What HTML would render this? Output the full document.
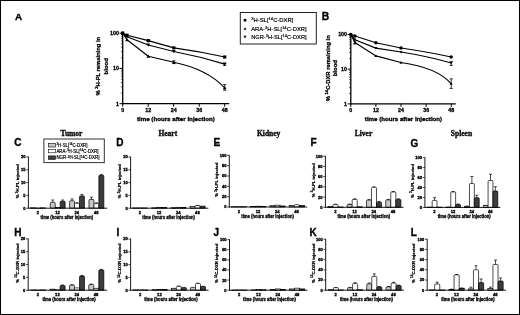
<!DOCTYPE html>
<html lang="en"><head><meta charset="utf-8"><title>Figure</title>
<style>html,body{margin:0;padding:0;background:#fff;}svg{display:block;}text{fill:#000;}</style>
</head><body>
<svg width="520" height="315" viewBox="0 0 520 315">
<rect x="0" y="0" width="520" height="315" fill="#fff"/>
<g id="main" filter="url(#bl)">
<text x="14.9" y="20.1" font-size="9.9" font-weight="bold" text-anchor="start" font-family='"Liberation Sans", sans-serif' stroke="#000" stroke-width="0.347">A</text>
<text x="321.7" y="20.4" font-size="10.3" font-weight="bold" text-anchor="start" font-family='"Liberation Sans", sans-serif' stroke="#000" stroke-width="0.361">B</text>
<rect x="240.3" y="12.5" width="76" height="31.5" fill="#fff" stroke="#222" stroke-width="1"/>
<rect x="243.70" y="18.90" width="2.60" height="2.60" fill="#000"/>
<text x="251.2" y="22.3" font-size="6" font-weight="normal" text-anchor="start" font-family='"Liberation Sans", sans-serif' stroke="#000" stroke-width="0.180" textLength="42.2" lengthAdjust="spacingAndGlyphs"><tspan font-size="4.20" dy="-2.16">3</tspan><tspan dy="2.16" font-size="6">&#8203;</tspan>H-SL[<tspan font-size="4.20" dy="-2.16">14</tspan><tspan dy="2.16" font-size="6">&#8203;</tspan>C-DXR]</text>
<path d="M245.00,27.17 L246.50,29.77 L243.50,29.77Z" fill="#000"/>
<text x="251.2" y="30.700000000000003" font-size="6" font-weight="normal" text-anchor="start" font-family='"Liberation Sans", sans-serif' stroke="#000" stroke-width="0.180" textLength="55.4" lengthAdjust="spacingAndGlyphs">ARA-<tspan font-size="4.20" dy="-2.16">3</tspan><tspan dy="2.16" font-size="6">&#8203;</tspan>H-SL[<tspan font-size="4.20" dy="-2.16">14</tspan><tspan dy="2.16" font-size="6">&#8203;</tspan>C-DXR]</text>
<path d="M245.00,38.43 L246.50,35.83 L243.50,35.83Z" fill="#000"/>
<text x="251.2" y="39.1" font-size="6" font-weight="normal" text-anchor="start" font-family='"Liberation Sans", sans-serif' stroke="#000" stroke-width="0.180" textLength="55.4" lengthAdjust="spacingAndGlyphs">NGR-<tspan font-size="4.20" dy="-2.16">3</tspan><tspan dy="2.16" font-size="6">&#8203;</tspan>H-SL[<tspan font-size="4.20" dy="-2.16">14</tspan><tspan dy="2.16" font-size="6">&#8203;</tspan>C-DXR]</text>
<line x1="122.70" y1="32.70" x2="122.70" y2="104.20" stroke="#000" stroke-width="1.3"/>
<line x1="122.10" y1="103.70" x2="229.20" y2="103.70" stroke="#000" stroke-width="1.3"/>
<line x1="119.50" y1="103.70" x2="122.70" y2="103.70" stroke="#000" stroke-width="1.0"/>
<text x="118.9" y="105.60000000000001" font-size="5.3" font-weight="bold" text-anchor="end" font-family='"Liberation Sans", sans-serif' stroke="#000" stroke-width="0.300">1</text>
<line x1="120.90" y1="93.09" x2="122.70" y2="93.09" stroke="#000" stroke-width="0.6"/>
<line x1="120.90" y1="86.88" x2="122.70" y2="86.88" stroke="#000" stroke-width="0.6"/>
<line x1="120.90" y1="82.48" x2="122.70" y2="82.48" stroke="#000" stroke-width="0.6"/>
<line x1="120.90" y1="79.06" x2="122.70" y2="79.06" stroke="#000" stroke-width="0.6"/>
<line x1="120.90" y1="76.27" x2="122.70" y2="76.27" stroke="#000" stroke-width="0.6"/>
<line x1="120.90" y1="73.91" x2="122.70" y2="73.91" stroke="#000" stroke-width="0.6"/>
<line x1="120.90" y1="71.87" x2="122.70" y2="71.87" stroke="#000" stroke-width="0.6"/>
<line x1="120.90" y1="70.06" x2="122.70" y2="70.06" stroke="#000" stroke-width="0.6"/>
<line x1="119.50" y1="68.45" x2="122.70" y2="68.45" stroke="#000" stroke-width="1.0"/>
<text x="118.9" y="70.35000000000001" font-size="5.3" font-weight="bold" text-anchor="end" font-family='"Liberation Sans", sans-serif' stroke="#000" stroke-width="0.300">10</text>
<line x1="120.90" y1="57.84" x2="122.70" y2="57.84" stroke="#000" stroke-width="0.6"/>
<line x1="120.90" y1="51.63" x2="122.70" y2="51.63" stroke="#000" stroke-width="0.6"/>
<line x1="120.90" y1="47.23" x2="122.70" y2="47.23" stroke="#000" stroke-width="0.6"/>
<line x1="120.90" y1="43.81" x2="122.70" y2="43.81" stroke="#000" stroke-width="0.6"/>
<line x1="120.90" y1="41.02" x2="122.70" y2="41.02" stroke="#000" stroke-width="0.6"/>
<line x1="120.90" y1="38.66" x2="122.70" y2="38.66" stroke="#000" stroke-width="0.6"/>
<line x1="120.90" y1="36.62" x2="122.70" y2="36.62" stroke="#000" stroke-width="0.6"/>
<line x1="120.90" y1="34.81" x2="122.70" y2="34.81" stroke="#000" stroke-width="0.6"/>
<line x1="119.50" y1="33.20" x2="122.70" y2="33.20" stroke="#000" stroke-width="1.0"/>
<text x="118.9" y="35.1" font-size="5.3" font-weight="bold" text-anchor="end" font-family='"Liberation Sans", sans-serif' stroke="#000" stroke-width="0.300">100</text>
<line x1="122.70" y1="103.70" x2="122.70" y2="106.70" stroke="#000" stroke-width="1.0"/>
<text x="122.7" y="112.0" font-size="5.3" font-weight="bold" text-anchor="middle" font-family='"Liberation Sans", sans-serif' stroke="#000" stroke-width="0.300">0</text>
<line x1="148.20" y1="103.70" x2="148.20" y2="106.70" stroke="#000" stroke-width="1.0"/>
<text x="148.2" y="112.0" font-size="5.3" font-weight="bold" text-anchor="middle" font-family='"Liberation Sans", sans-serif' stroke="#000" stroke-width="0.300">12</text>
<line x1="173.70" y1="103.70" x2="173.70" y2="106.70" stroke="#000" stroke-width="1.0"/>
<text x="173.7" y="112.0" font-size="5.3" font-weight="bold" text-anchor="middle" font-family='"Liberation Sans", sans-serif' stroke="#000" stroke-width="0.300">24</text>
<line x1="199.20" y1="103.70" x2="199.20" y2="106.70" stroke="#000" stroke-width="1.0"/>
<text x="199.2" y="112.0" font-size="5.3" font-weight="bold" text-anchor="middle" font-family='"Liberation Sans", sans-serif' stroke="#000" stroke-width="0.300">36</text>
<line x1="224.70" y1="103.70" x2="224.70" y2="106.70" stroke="#000" stroke-width="1.0"/>
<text x="224.7" y="112.0" font-size="5.3" font-weight="bold" text-anchor="middle" font-family='"Liberation Sans", sans-serif' stroke="#000" stroke-width="0.300">48</text>
<text x="175.9" y="121.3" font-size="6" font-weight="bold" text-anchor="middle" font-family='"Liberation Sans", sans-serif' stroke="#000" stroke-width="0.300" textLength="78" lengthAdjust="spacingAndGlyphs">time (hours after injection)</text>
<text x="100.4" y="66.2" font-size="6" font-weight="bold" text-anchor="middle" font-family='"Liberation Sans", sans-serif' transform="rotate(-90 100.4 66.2)" stroke="#000" stroke-width="0.300" textLength="58.5" lengthAdjust="spacingAndGlyphs">% <tspan font-size="4.20" dy="-2.16">3</tspan><tspan dy="2.16" font-size="6">&#8203;</tspan>H-PL remaining in</text>
<text x="107.8" y="66.2" font-size="6" font-weight="bold" text-anchor="middle" font-family='"Liberation Sans", sans-serif' transform="rotate(-90 107.8 66.2)" stroke="#000" stroke-width="0.300">blood</text>
<path d="M122.70,33.20 L127.00,35.20 L148.30,40.60 L173.80,47.90 Q200.00,51.50 224.70,57.00" fill="none" stroke="#000" stroke-width="1.15" stroke-linejoin="round"/>
<rect x="121.10" y="31.60" width="3.20" height="3.20" fill="#000"/>
<rect x="125.40" y="33.60" width="3.20" height="3.20" fill="#000"/>
<rect x="146.70" y="39.00" width="3.20" height="3.20" fill="#000"/>
<rect x="172.20" y="46.30" width="3.20" height="3.20" fill="#000"/>
<rect x="223.10" y="55.40" width="3.20" height="3.20" fill="#000"/>
<path d="M122.70,33.20 L127.00,36.70 L148.30,45.00 L173.80,51.50 Q200.00,56.50 224.70,64.10" fill="none" stroke="#000" stroke-width="1.15" stroke-linejoin="round"/>
<line x1="224.70" y1="63.00" x2="224.70" y2="65.50" stroke="#000" stroke-width="0.8"/>
<line x1="223.10" y1="63.00" x2="226.30" y2="63.00" stroke="#000" stroke-width="0.8"/>
<line x1="223.10" y1="65.50" x2="226.30" y2="65.50" stroke="#000" stroke-width="0.8"/>
<path d="M122.70,34.96 L124.54,31.76 L120.86,31.76Z" fill="#000"/>
<path d="M127.00,38.46 L128.84,35.26 L125.16,35.26Z" fill="#000"/>
<path d="M148.30,46.76 L150.14,43.56 L146.46,43.56Z" fill="#000"/>
<path d="M173.80,53.26 L175.64,50.06 L171.96,50.06Z" fill="#000"/>
<path d="M224.70,65.86 L226.54,62.66 L222.86,62.66Z" fill="#000"/>
<path d="M122.70,33.20 L127.00,39.80 L148.30,56.20 L173.80,62.20 Q207.00,69.00 224.70,87.80" fill="none" stroke="#000" stroke-width="1.15" stroke-linejoin="round"/>
<line x1="224.70" y1="84.60" x2="224.70" y2="90.20" stroke="#000" stroke-width="0.8"/>
<line x1="223.10" y1="84.60" x2="226.30" y2="84.60" stroke="#000" stroke-width="0.8"/>
<line x1="223.10" y1="90.20" x2="226.30" y2="90.20" stroke="#000" stroke-width="0.8"/>
<line x1="173.80" y1="60.80" x2="173.80" y2="63.60" stroke="#000" stroke-width="0.8"/>
<line x1="172.20" y1="60.80" x2="175.40" y2="60.80" stroke="#000" stroke-width="0.8"/>
<line x1="172.20" y1="63.60" x2="175.40" y2="63.60" stroke="#000" stroke-width="0.8"/>
<path d="M122.70,31.44 L124.54,34.64 L120.86,34.64Z" fill="#000"/>
<path d="M127.00,38.04 L128.84,41.24 L125.16,41.24Z" fill="#000"/>
<path d="M148.30,54.44 L150.14,57.64 L146.46,57.64Z" fill="#000"/>
<path d="M173.80,60.44 L175.64,63.64 L171.96,63.64Z" fill="#000"/>
<path d="M224.70,86.04 L226.54,89.24 L222.86,89.24Z" fill="#000"/>
<line x1="350.80" y1="33.90" x2="350.80" y2="104.40" stroke="#000" stroke-width="1.3"/>
<line x1="350.20" y1="103.90" x2="455.76" y2="103.90" stroke="#000" stroke-width="1.3"/>
<line x1="347.60" y1="103.90" x2="350.80" y2="103.90" stroke="#000" stroke-width="1.0"/>
<text x="347.0" y="105.80000000000001" font-size="5.3" font-weight="bold" text-anchor="end" font-family='"Liberation Sans", sans-serif' stroke="#000" stroke-width="0.300">1</text>
<line x1="349.00" y1="93.44" x2="350.80" y2="93.44" stroke="#000" stroke-width="0.6"/>
<line x1="349.00" y1="87.32" x2="350.80" y2="87.32" stroke="#000" stroke-width="0.6"/>
<line x1="349.00" y1="82.98" x2="350.80" y2="82.98" stroke="#000" stroke-width="0.6"/>
<line x1="349.00" y1="79.61" x2="350.80" y2="79.61" stroke="#000" stroke-width="0.6"/>
<line x1="349.00" y1="76.86" x2="350.80" y2="76.86" stroke="#000" stroke-width="0.6"/>
<line x1="349.00" y1="74.53" x2="350.80" y2="74.53" stroke="#000" stroke-width="0.6"/>
<line x1="349.00" y1="72.52" x2="350.80" y2="72.52" stroke="#000" stroke-width="0.6"/>
<line x1="349.00" y1="70.74" x2="350.80" y2="70.74" stroke="#000" stroke-width="0.6"/>
<line x1="347.60" y1="69.15" x2="350.80" y2="69.15" stroke="#000" stroke-width="1.0"/>
<text x="347.0" y="71.05000000000001" font-size="5.3" font-weight="bold" text-anchor="end" font-family='"Liberation Sans", sans-serif' stroke="#000" stroke-width="0.300">10</text>
<line x1="349.00" y1="58.69" x2="350.80" y2="58.69" stroke="#000" stroke-width="0.6"/>
<line x1="349.00" y1="52.57" x2="350.80" y2="52.57" stroke="#000" stroke-width="0.6"/>
<line x1="349.00" y1="48.23" x2="350.80" y2="48.23" stroke="#000" stroke-width="0.6"/>
<line x1="349.00" y1="44.86" x2="350.80" y2="44.86" stroke="#000" stroke-width="0.6"/>
<line x1="349.00" y1="42.11" x2="350.80" y2="42.11" stroke="#000" stroke-width="0.6"/>
<line x1="349.00" y1="39.78" x2="350.80" y2="39.78" stroke="#000" stroke-width="0.6"/>
<line x1="349.00" y1="37.77" x2="350.80" y2="37.77" stroke="#000" stroke-width="0.6"/>
<line x1="349.00" y1="35.99" x2="350.80" y2="35.99" stroke="#000" stroke-width="0.6"/>
<line x1="347.60" y1="34.40" x2="350.80" y2="34.40" stroke="#000" stroke-width="1.0"/>
<text x="347.0" y="36.300000000000004" font-size="5.3" font-weight="bold" text-anchor="end" font-family='"Liberation Sans", sans-serif' stroke="#000" stroke-width="0.300">100</text>
<line x1="350.80" y1="103.90" x2="350.80" y2="106.90" stroke="#000" stroke-width="1.0"/>
<text x="350.8" y="112.3" font-size="5.3" font-weight="bold" text-anchor="middle" font-family='"Liberation Sans", sans-serif' stroke="#000" stroke-width="0.300">0</text>
<line x1="375.92" y1="103.90" x2="375.92" y2="106.90" stroke="#000" stroke-width="1.0"/>
<text x="375.916" y="112.3" font-size="5.3" font-weight="bold" text-anchor="middle" font-family='"Liberation Sans", sans-serif' stroke="#000" stroke-width="0.300">12</text>
<line x1="401.03" y1="103.90" x2="401.03" y2="106.90" stroke="#000" stroke-width="1.0"/>
<text x="401.03200000000004" y="112.3" font-size="5.3" font-weight="bold" text-anchor="middle" font-family='"Liberation Sans", sans-serif' stroke="#000" stroke-width="0.300">24</text>
<line x1="426.15" y1="103.90" x2="426.15" y2="106.90" stroke="#000" stroke-width="1.0"/>
<text x="426.148" y="112.3" font-size="5.3" font-weight="bold" text-anchor="middle" font-family='"Liberation Sans", sans-serif' stroke="#000" stroke-width="0.300">36</text>
<line x1="451.26" y1="103.90" x2="451.26" y2="106.90" stroke="#000" stroke-width="1.0"/>
<text x="451.264" y="112.3" font-size="5.3" font-weight="bold" text-anchor="middle" font-family='"Liberation Sans", sans-serif' stroke="#000" stroke-width="0.300">48</text>
<text x="403.5" y="121" font-size="6" font-weight="bold" text-anchor="middle" font-family='"Liberation Sans", sans-serif' stroke="#000" stroke-width="0.300" textLength="77.3" lengthAdjust="spacingAndGlyphs">time (hours after injection)</text>
<text x="329.7" y="68.2" font-size="6" font-weight="bold" text-anchor="middle" font-family='"Liberation Sans", sans-serif' transform="rotate(-90 329.7 68.2)" stroke="#000" stroke-width="0.300" textLength="66" lengthAdjust="spacingAndGlyphs">% <tspan font-size="4.20" dy="-2.16">14</tspan><tspan dy="2.16" font-size="6">&#8203;</tspan>C-DXR remaining in</text>
<text x="336.7" y="68.2" font-size="6" font-weight="bold" text-anchor="middle" font-family='"Liberation Sans", sans-serif' transform="rotate(-90 336.7 68.2)" stroke="#000" stroke-width="0.300">blood</text>
<path d="M350.80,34.40 L354.90,36.00 L375.90,42.70 L401.00,48.00 Q428.00,52.00 451.20,57.00" fill="none" stroke="#000" stroke-width="1.15" stroke-linejoin="round"/>
<circle cx="350.80" cy="34.40" r="1.76" fill="#000"/>
<circle cx="354.90" cy="36.00" r="1.76" fill="#000"/>
<circle cx="375.90" cy="42.70" r="1.76" fill="#000"/>
<circle cx="401.00" cy="48.00" r="1.76" fill="#000"/>
<circle cx="451.20" cy="57.00" r="1.76" fill="#000"/>
<path d="M350.80,34.40 L354.90,39.70 L375.90,48.10 L401.00,52.00 Q428.00,56.30 451.20,63.00" fill="none" stroke="#000" stroke-width="1.15" stroke-linejoin="round"/>
<line x1="451.20" y1="61.40" x2="451.20" y2="65.40" stroke="#000" stroke-width="0.8"/>
<line x1="449.60" y1="61.40" x2="452.80" y2="61.40" stroke="#000" stroke-width="0.8"/>
<line x1="449.60" y1="65.40" x2="452.80" y2="65.40" stroke="#000" stroke-width="0.8"/>
<path d="M350.80,35.77 L352.24,33.27 L349.36,33.27Z" fill="#000"/>
<path d="M354.90,41.08 L356.34,38.58 L353.46,38.58Z" fill="#000"/>
<path d="M375.90,49.48 L377.34,46.98 L374.46,46.98Z" fill="#000"/>
<path d="M401.00,53.38 L402.44,50.88 L399.56,50.88Z" fill="#000"/>
<path d="M451.20,64.38 L452.64,61.88 L449.76,61.88Z" fill="#000"/>
<path d="M350.80,34.40 L354.90,42.50 L375.90,55.90 L401.00,62.50 Q437.00,67.50 451.20,83.70" fill="none" stroke="#000" stroke-width="1.15" stroke-linejoin="round"/>
<line x1="451.20" y1="78.90" x2="451.20" y2="88.40" stroke="#000" stroke-width="0.8"/>
<line x1="449.60" y1="78.90" x2="452.80" y2="78.90" stroke="#000" stroke-width="0.8"/>
<line x1="449.60" y1="88.40" x2="452.80" y2="88.40" stroke="#000" stroke-width="0.8"/>
<line x1="354.90" y1="41.00" x2="354.90" y2="44.00" stroke="#000" stroke-width="0.8"/>
<line x1="353.30" y1="41.00" x2="356.50" y2="41.00" stroke="#000" stroke-width="0.8"/>
<line x1="353.30" y1="44.00" x2="356.50" y2="44.00" stroke="#000" stroke-width="0.8"/>
<path d="M350.80,32.97 L352.30,35.57 L349.31,35.57Z" fill="#000"/>
<path d="M354.90,41.07 L356.39,43.67 L353.40,43.67Z" fill="#000"/>
<path d="M375.90,54.47 L377.39,57.07 L374.40,57.07Z" fill="#000"/>
<path d="M401.00,61.07 L402.50,63.67 L399.50,63.67Z" fill="#000"/>
<path d="M451.20,82.27 L452.69,84.87 L449.70,84.87Z" fill="#000"/>
<rect x="30.57" y="207.82" width="4.95" height="0.38" fill="#c8c8c8" stroke="#000" stroke-width="0.7"/>
<rect x="35.52" y="208.07" width="4.95" height="0.13" fill="#fff" stroke="#000" stroke-width="0.7"/>
<rect x="40.48" y="207.89" width="4.95" height="0.31" fill="#3c3c3c" stroke="#000" stroke-width="0.7"/>
<line x1="52.75" y1="202.31" x2="52.75" y2="200.01" stroke="#000" stroke-width="0.7"/>
<line x1="51.25" y1="200.01" x2="54.25" y2="200.01" stroke="#000" stroke-width="0.7"/>
<path d="M50.28,208.20 V203.21 Q50.28,202.31 51.18,202.31 H54.33 Q55.23,202.31 55.23,203.21 V208.20Z" fill="#c8c8c8" stroke="#000" stroke-width="0.7"/>
<rect x="55.23" y="207.43" width="4.95" height="0.77" fill="#fff" stroke="#000" stroke-width="0.7"/>
<line x1="62.65" y1="201.29" x2="62.65" y2="200.01" stroke="#000" stroke-width="0.7"/>
<line x1="61.15" y1="200.01" x2="64.15" y2="200.01" stroke="#000" stroke-width="0.7"/>
<path d="M60.18,208.20 V202.19 Q60.18,201.29 61.08,201.29 H64.22 Q65.12,201.29 65.12,202.19 V208.20Z" fill="#3c3c3c" stroke="#000" stroke-width="0.7"/>
<line x1="72.05" y1="200.78" x2="72.05" y2="198.98" stroke="#000" stroke-width="0.7"/>
<line x1="70.55" y1="198.98" x2="73.55" y2="198.98" stroke="#000" stroke-width="0.7"/>
<path d="M69.58,208.20 V201.68 Q69.58,200.78 70.48,200.78 H73.62 Q74.53,200.78 74.53,201.68 V208.20Z" fill="#c8c8c8" stroke="#000" stroke-width="0.7"/>
<line x1="77.00" y1="203.34" x2="77.00" y2="202.82" stroke="#000" stroke-width="0.7"/>
<line x1="75.50" y1="202.82" x2="78.50" y2="202.82" stroke="#000" stroke-width="0.7"/>
<path d="M74.53,208.20 V204.24 Q74.53,203.34 75.43,203.34 H78.58 Q79.48,203.34 79.48,204.24 V208.20Z" fill="#fff" stroke="#000" stroke-width="0.7"/>
<line x1="81.95" y1="195.91" x2="81.95" y2="194.38" stroke="#000" stroke-width="0.7"/>
<line x1="80.45" y1="194.38" x2="83.45" y2="194.38" stroke="#000" stroke-width="0.7"/>
<path d="M79.48,208.20 V196.81 Q79.48,195.91 80.38,195.91 H83.53 Q84.43,195.91 84.43,196.81 V208.20Z" fill="#3c3c3c" stroke="#000" stroke-width="0.7"/>
<line x1="91.45" y1="199.50" x2="91.45" y2="197.19" stroke="#000" stroke-width="0.7"/>
<line x1="89.95" y1="197.19" x2="92.95" y2="197.19" stroke="#000" stroke-width="0.7"/>
<path d="M88.98,208.20 V200.40 Q88.98,199.50 89.88,199.50 H93.03 Q93.93,199.50 93.93,200.40 V208.20Z" fill="#c8c8c8" stroke="#000" stroke-width="0.7"/>
<line x1="96.40" y1="203.59" x2="96.40" y2="202.82" stroke="#000" stroke-width="0.7"/>
<line x1="94.90" y1="202.82" x2="97.90" y2="202.82" stroke="#000" stroke-width="0.7"/>
<path d="M93.93,208.20 V204.49 Q93.93,203.59 94.83,203.59 H97.98 Q98.88,203.59 98.88,204.49 V208.20Z" fill="#fff" stroke="#000" stroke-width="0.7"/>
<line x1="101.35" y1="175.18" x2="101.35" y2="174.66" stroke="#000" stroke-width="0.7"/>
<line x1="99.85" y1="174.66" x2="102.85" y2="174.66" stroke="#000" stroke-width="0.7"/>
<path d="M98.88,208.20 V176.08 Q98.88,175.18 99.78,175.18 H102.93 Q103.83,175.18 103.83,176.08 V208.20Z" fill="#3c3c3c" stroke="#000" stroke-width="0.7"/>
<line x1="28.40" y1="156.60" x2="28.40" y2="208.60" stroke="#000" stroke-width="0.9"/>
<line x1="28.00" y1="208.20" x2="107.20" y2="208.20" stroke="#000" stroke-width="0.9"/>
<line x1="26.20" y1="208.20" x2="28.40" y2="208.20" stroke="#000" stroke-width="0.7"/>
<text x="25.5" y="209.64999999999998" font-size="4.0" font-weight="bold" text-anchor="end" font-family='"Liberation Sans", sans-serif' stroke="#000" stroke-width="0.340">0</text>
<line x1="26.20" y1="195.40" x2="28.40" y2="195.40" stroke="#000" stroke-width="0.7"/>
<text x="25.5" y="196.84999999999997" font-size="4.0" font-weight="bold" text-anchor="end" font-family='"Liberation Sans", sans-serif' stroke="#000" stroke-width="0.340">5</text>
<line x1="26.20" y1="182.60" x2="28.40" y2="182.60" stroke="#000" stroke-width="0.7"/>
<text x="25.5" y="184.04999999999998" font-size="4.0" font-weight="bold" text-anchor="end" font-family='"Liberation Sans", sans-serif' stroke="#000" stroke-width="0.340">10</text>
<line x1="26.20" y1="169.80" x2="28.40" y2="169.80" stroke="#000" stroke-width="0.7"/>
<text x="25.5" y="171.25" font-size="4.0" font-weight="bold" text-anchor="end" font-family='"Liberation Sans", sans-serif' stroke="#000" stroke-width="0.340">15</text>
<line x1="26.20" y1="157.00" x2="28.40" y2="157.00" stroke="#000" stroke-width="0.7"/>
<text x="25.5" y="158.45" font-size="4.0" font-weight="bold" text-anchor="end" font-family='"Liberation Sans", sans-serif' stroke="#000" stroke-width="0.340">20</text>
<text x="37.8" y="213.89999999999998" font-size="4.1" font-weight="bold" text-anchor="middle" font-family='"Liberation Sans", sans-serif' stroke="#000" stroke-width="0.340">2</text>
<text x="57.5" y="213.89999999999998" font-size="4.1" font-weight="bold" text-anchor="middle" font-family='"Liberation Sans", sans-serif' stroke="#000" stroke-width="0.340">12</text>
<text x="76.8" y="213.89999999999998" font-size="4.1" font-weight="bold" text-anchor="middle" font-family='"Liberation Sans", sans-serif' stroke="#000" stroke-width="0.340">24</text>
<text x="96.2" y="213.89999999999998" font-size="4.1" font-weight="bold" text-anchor="middle" font-family='"Liberation Sans", sans-serif' stroke="#000" stroke-width="0.340">48</text>
<text x="66.9" y="219.1" font-size="4.5" font-weight="bold" text-anchor="middle" font-family='"Liberation Sans", sans-serif' stroke="#000" stroke-width="0.280" textLength="52.6" lengthAdjust="spacingAndGlyphs">time (hours after injection)</text>
<text x="19.2" y="181.1" font-size="4.3" font-weight="bold" text-anchor="middle" font-family='"Liberation Sans", sans-serif' transform="rotate(-90 19.2 181.1)" stroke="#000" stroke-width="0.220">% <tspan font-size="3.01" dy="-1.55">3</tspan><tspan dy="1.55" font-size="4.3">&#8203;</tspan>H-PL injected</text>
<text x="14.3" y="146.2" font-size="10" font-weight="bold" text-anchor="start" font-family='"Liberation Sans", sans-serif' stroke="#000" stroke-width="0.350">C</text>
<text x="71.5" y="136.2" font-size="7.5" font-weight="bold" text-anchor="middle" font-family='"Liberation Serif", serif' stroke="#000" stroke-width="0.300">Tumor</text>
<rect x="132.50" y="207.94" width="5.00" height="0.26" fill="#c8c8c8" stroke="#000" stroke-width="0.7"/>
<rect x="137.50" y="207.94" width="5.00" height="0.26" fill="#fff" stroke="#000" stroke-width="0.7"/>
<rect x="142.50" y="207.94" width="5.00" height="0.26" fill="#3c3c3c" stroke="#000" stroke-width="0.7"/>
<rect x="151.70" y="207.82" width="5.00" height="0.38" fill="#c8c8c8" stroke="#000" stroke-width="0.7"/>
<rect x="156.70" y="207.43" width="5.00" height="0.77" fill="#fff" stroke="#000" stroke-width="0.7"/>
<rect x="161.70" y="207.56" width="5.00" height="0.64" fill="#3c3c3c" stroke="#000" stroke-width="0.7"/>
<rect x="170.90" y="207.69" width="5.00" height="0.51" fill="#c8c8c8" stroke="#000" stroke-width="0.7"/>
<rect x="175.90" y="207.30" width="5.00" height="0.90" fill="#fff" stroke="#000" stroke-width="0.7"/>
<rect x="180.90" y="207.43" width="5.00" height="0.77" fill="#3c3c3c" stroke="#000" stroke-width="0.7"/>
<rect x="190.10" y="206.41" width="5.00" height="1.79" fill="#c8c8c8" stroke="#000" stroke-width="0.7"/>
<line x1="197.60" y1="205.64" x2="197.60" y2="205.38" stroke="#000" stroke-width="0.7"/>
<line x1="196.10" y1="205.38" x2="199.10" y2="205.38" stroke="#000" stroke-width="0.7"/>
<path d="M195.10,208.20 V206.54 Q195.10,205.64 196.00,205.64 H199.20 Q200.10,205.64 200.10,206.54 V208.20Z" fill="#fff" stroke="#000" stroke-width="0.7"/>
<rect x="200.10" y="206.15" width="5.00" height="2.05" fill="#3c3c3c" stroke="#000" stroke-width="0.7"/>
<line x1="130.60" y1="156.60" x2="130.60" y2="208.60" stroke="#000" stroke-width="0.9"/>
<line x1="130.20" y1="208.20" x2="208.40" y2="208.20" stroke="#000" stroke-width="0.9"/>
<line x1="128.40" y1="208.20" x2="130.60" y2="208.20" stroke="#000" stroke-width="0.7"/>
<text x="127.69999999999999" y="209.64999999999998" font-size="4.0" font-weight="bold" text-anchor="end" font-family='"Liberation Sans", sans-serif' stroke="#000" stroke-width="0.340">0</text>
<line x1="128.40" y1="195.40" x2="130.60" y2="195.40" stroke="#000" stroke-width="0.7"/>
<text x="127.69999999999999" y="196.84999999999997" font-size="4.0" font-weight="bold" text-anchor="end" font-family='"Liberation Sans", sans-serif' stroke="#000" stroke-width="0.340">5</text>
<line x1="128.40" y1="182.60" x2="130.60" y2="182.60" stroke="#000" stroke-width="0.7"/>
<text x="127.69999999999999" y="184.04999999999998" font-size="4.0" font-weight="bold" text-anchor="end" font-family='"Liberation Sans", sans-serif' stroke="#000" stroke-width="0.340">10</text>
<line x1="128.40" y1="169.80" x2="130.60" y2="169.80" stroke="#000" stroke-width="0.7"/>
<text x="127.69999999999999" y="171.25" font-size="4.0" font-weight="bold" text-anchor="end" font-family='"Liberation Sans", sans-serif' stroke="#000" stroke-width="0.340">15</text>
<line x1="128.40" y1="157.00" x2="130.60" y2="157.00" stroke="#000" stroke-width="0.7"/>
<text x="127.69999999999999" y="158.45" font-size="4.0" font-weight="bold" text-anchor="end" font-family='"Liberation Sans", sans-serif' stroke="#000" stroke-width="0.340">20</text>
<text x="139.8" y="213.89999999999998" font-size="4.1" font-weight="bold" text-anchor="middle" font-family='"Liberation Sans", sans-serif' stroke="#000" stroke-width="0.340">2</text>
<text x="159.0" y="213.89999999999998" font-size="4.1" font-weight="bold" text-anchor="middle" font-family='"Liberation Sans", sans-serif' stroke="#000" stroke-width="0.340">12</text>
<text x="178.20000000000002" y="213.89999999999998" font-size="4.1" font-weight="bold" text-anchor="middle" font-family='"Liberation Sans", sans-serif' stroke="#000" stroke-width="0.340">24</text>
<text x="197.4" y="213.89999999999998" font-size="4.1" font-weight="bold" text-anchor="middle" font-family='"Liberation Sans", sans-serif' stroke="#000" stroke-width="0.340">48</text>
<text x="168.6" y="219.1" font-size="4.5" font-weight="bold" text-anchor="middle" font-family='"Liberation Sans", sans-serif' stroke="#000" stroke-width="0.280" textLength="52.6" lengthAdjust="spacingAndGlyphs">time (hours after injection)</text>
<text x="121.4" y="181.1" font-size="4.3" font-weight="bold" text-anchor="middle" font-family='"Liberation Sans", sans-serif' transform="rotate(-90 121.4 181.1)" stroke="#000" stroke-width="0.220">% <tspan font-size="3.01" dy="-1.55">3</tspan><tspan dy="1.55" font-size="4.3">&#8203;</tspan>H-PL injected</text>
<text x="116.2" y="146.2" font-size="10" font-weight="bold" text-anchor="start" font-family='"Liberation Sans", sans-serif' stroke="#000" stroke-width="0.350">D</text>
<text x="167.8" y="136.2" font-size="7.5" font-weight="bold" text-anchor="middle" font-family='"Liberation Serif", serif' stroke="#000" stroke-width="0.300">Heart</text>
<rect x="231.43" y="206.74" width="5.05" height="0.26" fill="#c8c8c8" stroke="#000" stroke-width="0.7"/>
<rect x="236.48" y="206.74" width="5.05" height="0.26" fill="#fff" stroke="#000" stroke-width="0.7"/>
<rect x="241.53" y="206.74" width="5.05" height="0.26" fill="#3c3c3c" stroke="#000" stroke-width="0.7"/>
<rect x="250.62" y="206.59" width="5.05" height="0.41" fill="#c8c8c8" stroke="#000" stroke-width="0.7"/>
<rect x="255.68" y="206.22" width="5.05" height="0.78" fill="#fff" stroke="#000" stroke-width="0.7"/>
<rect x="260.73" y="206.48" width="5.05" height="0.52" fill="#3c3c3c" stroke="#000" stroke-width="0.7"/>
<rect x="269.93" y="205.71" width="5.05" height="1.29" fill="#c8c8c8" stroke="#000" stroke-width="0.7"/>
<rect x="274.98" y="205.19" width="5.05" height="1.81" fill="#fff" stroke="#000" stroke-width="0.7"/>
<rect x="280.03" y="205.97" width="5.05" height="1.03" fill="#3c3c3c" stroke="#000" stroke-width="0.7"/>
<rect x="289.23" y="205.45" width="5.05" height="1.55" fill="#c8c8c8" stroke="#000" stroke-width="0.7"/>
<path d="M294.28,207.00 V205.57 Q294.28,204.67 295.18,204.67 H298.43 Q299.33,204.67 299.33,205.57 V207.00Z" fill="#fff" stroke="#000" stroke-width="0.7"/>
<rect x="299.33" y="205.45" width="5.05" height="1.55" fill="#3c3c3c" stroke="#000" stroke-width="0.7"/>
<line x1="229.30" y1="154.90" x2="229.30" y2="207.40" stroke="#000" stroke-width="0.9"/>
<line x1="228.90" y1="207.00" x2="307.20" y2="207.00" stroke="#000" stroke-width="0.9"/>
<line x1="227.10" y1="207.00" x2="229.30" y2="207.00" stroke="#000" stroke-width="0.7"/>
<text x="226.4" y="208.45" font-size="4.0" font-weight="bold" text-anchor="end" font-family='"Liberation Sans", sans-serif' stroke="#000" stroke-width="0.340">0</text>
<line x1="227.10" y1="196.66" x2="229.30" y2="196.66" stroke="#000" stroke-width="0.7"/>
<text x="226.4" y="198.10999999999999" font-size="4.0" font-weight="bold" text-anchor="end" font-family='"Liberation Sans", sans-serif' stroke="#000" stroke-width="0.340">20</text>
<line x1="227.10" y1="186.32" x2="229.30" y2="186.32" stroke="#000" stroke-width="0.7"/>
<text x="226.4" y="187.76999999999998" font-size="4.0" font-weight="bold" text-anchor="end" font-family='"Liberation Sans", sans-serif' stroke="#000" stroke-width="0.340">40</text>
<line x1="227.10" y1="175.98" x2="229.30" y2="175.98" stroke="#000" stroke-width="0.7"/>
<text x="226.4" y="177.43" font-size="4.0" font-weight="bold" text-anchor="end" font-family='"Liberation Sans", sans-serif' stroke="#000" stroke-width="0.340">60</text>
<line x1="227.10" y1="165.64" x2="229.30" y2="165.64" stroke="#000" stroke-width="0.7"/>
<text x="226.4" y="167.09" font-size="4.0" font-weight="bold" text-anchor="end" font-family='"Liberation Sans", sans-serif' stroke="#000" stroke-width="0.340">80</text>
<line x1="227.10" y1="155.30" x2="229.30" y2="155.30" stroke="#000" stroke-width="0.7"/>
<text x="226.4" y="156.75" font-size="4.0" font-weight="bold" text-anchor="end" font-family='"Liberation Sans", sans-serif' stroke="#000" stroke-width="0.340">100</text>
<text x="238.8" y="212.7" font-size="4.1" font-weight="bold" text-anchor="middle" font-family='"Liberation Sans", sans-serif' stroke="#000" stroke-width="0.340">2</text>
<text x="258.0" y="212.7" font-size="4.1" font-weight="bold" text-anchor="middle" font-family='"Liberation Sans", sans-serif' stroke="#000" stroke-width="0.340">12</text>
<text x="277.3" y="212.7" font-size="4.1" font-weight="bold" text-anchor="middle" font-family='"Liberation Sans", sans-serif' stroke="#000" stroke-width="0.340">24</text>
<text x="296.6" y="212.7" font-size="4.1" font-weight="bold" text-anchor="middle" font-family='"Liberation Sans", sans-serif' stroke="#000" stroke-width="0.340">48</text>
<text x="267.6" y="217.9" font-size="4.5" font-weight="bold" text-anchor="middle" font-family='"Liberation Sans", sans-serif' stroke="#000" stroke-width="0.280" textLength="52.6" lengthAdjust="spacingAndGlyphs">time (hours after injection)</text>
<text x="218.5" y="179.65" font-size="4.3" font-weight="bold" text-anchor="middle" font-family='"Liberation Sans", sans-serif' transform="rotate(-90 218.5 179.65)" stroke="#000" stroke-width="0.220">% <tspan font-size="3.01" dy="-1.55">3</tspan><tspan dy="1.55" font-size="4.3">&#8203;</tspan>H-PL injected</text>
<text x="213.4" y="146.2" font-size="10" font-weight="bold" text-anchor="start" font-family='"Liberation Sans", sans-serif' stroke="#000" stroke-width="0.350">E</text>
<text x="268.7" y="136.2" font-size="7.5" font-weight="bold" text-anchor="middle" font-family='"Liberation Serif", serif' stroke="#000" stroke-width="0.300">Kidney</text>
<rect x="327.93" y="206.53" width="5.05" height="0.77" fill="#c8c8c8" stroke="#000" stroke-width="0.7"/>
<line x1="335.50" y1="204.49" x2="335.50" y2="204.23" stroke="#000" stroke-width="0.7"/>
<line x1="334.00" y1="204.23" x2="337.00" y2="204.23" stroke="#000" stroke-width="0.7"/>
<path d="M332.98,207.30 V205.39 Q332.98,204.49 333.88,204.49 H337.13 Q338.03,204.49 338.03,205.39 V207.30Z" fill="#fff" stroke="#000" stroke-width="0.7"/>
<rect x="338.03" y="206.99" width="5.05" height="0.31" fill="#3c3c3c" stroke="#000" stroke-width="0.7"/>
<line x1="349.65" y1="204.49" x2="349.65" y2="204.08" stroke="#000" stroke-width="0.7"/>
<line x1="348.15" y1="204.08" x2="351.15" y2="204.08" stroke="#000" stroke-width="0.7"/>
<path d="M347.12,207.30 V205.39 Q347.12,204.49 348.02,204.49 H351.28 Q352.18,204.49 352.18,205.39 V207.30Z" fill="#c8c8c8" stroke="#000" stroke-width="0.7"/>
<line x1="354.70" y1="199.38" x2="354.70" y2="198.87" stroke="#000" stroke-width="0.7"/>
<line x1="353.20" y1="198.87" x2="356.20" y2="198.87" stroke="#000" stroke-width="0.7"/>
<path d="M352.18,207.30 V200.28 Q352.18,199.38 353.07,199.38 H356.33 Q357.23,199.38 357.23,200.28 V207.30Z" fill="#fff" stroke="#000" stroke-width="0.7"/>
<rect x="357.23" y="206.79" width="5.05" height="0.51" fill="#3c3c3c" stroke="#000" stroke-width="0.7"/>
<line x1="368.95" y1="200.15" x2="368.95" y2="199.38" stroke="#000" stroke-width="0.7"/>
<line x1="367.45" y1="199.38" x2="370.45" y2="199.38" stroke="#000" stroke-width="0.7"/>
<path d="M366.43,207.30 V201.05 Q366.43,200.15 367.32,200.15 H370.58 Q371.48,200.15 371.48,201.05 V207.30Z" fill="#c8c8c8" stroke="#000" stroke-width="0.7"/>
<line x1="374.00" y1="187.37" x2="374.00" y2="186.86" stroke="#000" stroke-width="0.7"/>
<line x1="372.50" y1="186.86" x2="375.50" y2="186.86" stroke="#000" stroke-width="0.7"/>
<path d="M371.48,207.30 V188.27 Q371.48,187.37 372.38,187.37 H375.63 Q376.53,187.37 376.53,188.27 V207.30Z" fill="#fff" stroke="#000" stroke-width="0.7"/>
<line x1="379.05" y1="202.19" x2="379.05" y2="201.42" stroke="#000" stroke-width="0.7"/>
<line x1="377.55" y1="201.42" x2="380.55" y2="201.42" stroke="#000" stroke-width="0.7"/>
<path d="M376.53,207.30 V203.09 Q376.53,202.19 377.43,202.19 H380.68 Q381.58,202.19 381.58,203.09 V207.30Z" fill="#3c3c3c" stroke="#000" stroke-width="0.7"/>
<line x1="388.25" y1="199.89" x2="388.25" y2="199.38" stroke="#000" stroke-width="0.7"/>
<line x1="386.75" y1="199.38" x2="389.75" y2="199.38" stroke="#000" stroke-width="0.7"/>
<path d="M385.73,207.30 V200.79 Q385.73,199.89 386.62,199.89 H389.88 Q390.78,199.89 390.78,200.79 V207.30Z" fill="#c8c8c8" stroke="#000" stroke-width="0.7"/>
<line x1="393.30" y1="191.97" x2="393.30" y2="191.46" stroke="#000" stroke-width="0.7"/>
<line x1="391.80" y1="191.46" x2="394.80" y2="191.46" stroke="#000" stroke-width="0.7"/>
<path d="M390.78,207.30 V192.87 Q390.78,191.97 391.68,191.97 H394.93 Q395.83,191.97 395.83,192.87 V207.30Z" fill="#fff" stroke="#000" stroke-width="0.7"/>
<line x1="398.35" y1="199.38" x2="398.35" y2="198.87" stroke="#000" stroke-width="0.7"/>
<line x1="396.85" y1="198.87" x2="399.85" y2="198.87" stroke="#000" stroke-width="0.7"/>
<path d="M395.83,207.30 V200.28 Q395.83,199.38 396.73,199.38 H399.98 Q400.88,199.38 400.88,200.28 V207.30Z" fill="#3c3c3c" stroke="#000" stroke-width="0.7"/>
<line x1="325.40" y1="155.80" x2="325.40" y2="207.70" stroke="#000" stroke-width="0.9"/>
<line x1="325.00" y1="207.30" x2="403.60" y2="207.30" stroke="#000" stroke-width="0.9"/>
<line x1="323.20" y1="207.30" x2="325.40" y2="207.30" stroke="#000" stroke-width="0.7"/>
<text x="322.5" y="208.75" font-size="4.0" font-weight="bold" text-anchor="end" font-family='"Liberation Sans", sans-serif' stroke="#000" stroke-width="0.340">0</text>
<line x1="323.20" y1="197.08" x2="325.40" y2="197.08" stroke="#000" stroke-width="0.7"/>
<text x="322.5" y="198.53" font-size="4.0" font-weight="bold" text-anchor="end" font-family='"Liberation Sans", sans-serif' stroke="#000" stroke-width="0.340">20</text>
<line x1="323.20" y1="186.86" x2="325.40" y2="186.86" stroke="#000" stroke-width="0.7"/>
<text x="322.5" y="188.31" font-size="4.0" font-weight="bold" text-anchor="end" font-family='"Liberation Sans", sans-serif' stroke="#000" stroke-width="0.340">40</text>
<line x1="323.20" y1="176.64" x2="325.40" y2="176.64" stroke="#000" stroke-width="0.7"/>
<text x="322.5" y="178.08999999999997" font-size="4.0" font-weight="bold" text-anchor="end" font-family='"Liberation Sans", sans-serif' stroke="#000" stroke-width="0.340">60</text>
<line x1="323.20" y1="166.42" x2="325.40" y2="166.42" stroke="#000" stroke-width="0.7"/>
<text x="322.5" y="167.86999999999998" font-size="4.0" font-weight="bold" text-anchor="end" font-family='"Liberation Sans", sans-serif' stroke="#000" stroke-width="0.340">80</text>
<line x1="323.20" y1="156.20" x2="325.40" y2="156.20" stroke="#000" stroke-width="0.7"/>
<text x="322.5" y="157.64999999999998" font-size="4.0" font-weight="bold" text-anchor="end" font-family='"Liberation Sans", sans-serif' stroke="#000" stroke-width="0.340">100</text>
<text x="335.3" y="213.0" font-size="4.1" font-weight="bold" text-anchor="middle" font-family='"Liberation Sans", sans-serif' stroke="#000" stroke-width="0.340">2</text>
<text x="354.5" y="213.0" font-size="4.1" font-weight="bold" text-anchor="middle" font-family='"Liberation Sans", sans-serif' stroke="#000" stroke-width="0.340">12</text>
<text x="373.8" y="213.0" font-size="4.1" font-weight="bold" text-anchor="middle" font-family='"Liberation Sans", sans-serif' stroke="#000" stroke-width="0.340">24</text>
<text x="393.1" y="213.0" font-size="4.1" font-weight="bold" text-anchor="middle" font-family='"Liberation Sans", sans-serif' stroke="#000" stroke-width="0.340">48</text>
<text x="363.8" y="218.20000000000002" font-size="4.5" font-weight="bold" text-anchor="middle" font-family='"Liberation Sans", sans-serif' stroke="#000" stroke-width="0.280" textLength="52.8" lengthAdjust="spacingAndGlyphs">time (hours after injection)</text>
<text x="314.8" y="180.25" font-size="4.3" font-weight="bold" text-anchor="middle" font-family='"Liberation Sans", sans-serif' transform="rotate(-90 314.8 180.25)" stroke="#000" stroke-width="0.220">% <tspan font-size="3.01" dy="-1.55">3</tspan><tspan dy="1.55" font-size="4.3">&#8203;</tspan>H-PL injected</text>
<text x="310.4" y="146.2" font-size="10" font-weight="bold" text-anchor="start" font-family='"Liberation Sans", sans-serif' stroke="#000" stroke-width="0.350">F</text>
<text x="363.5" y="136.2" font-size="7.5" font-weight="bold" text-anchor="middle" font-family='"Liberation Serif", serif' stroke="#000" stroke-width="0.300">Liver</text>
<rect x="427.33" y="207.10" width="4.85" height="0.30" fill="#c8c8c8" stroke="#000" stroke-width="0.7"/>
<line x1="434.60" y1="200.43" x2="434.60" y2="197.69" stroke="#000" stroke-width="0.7"/>
<line x1="433.10" y1="197.69" x2="436.10" y2="197.69" stroke="#000" stroke-width="0.7"/>
<path d="M432.18,207.40 V201.33 Q432.18,200.43 433.08,200.43 H436.13 Q437.03,200.43 437.03,201.33 V207.40Z" fill="#fff" stroke="#000" stroke-width="0.7"/>
<rect x="437.03" y="207.10" width="4.85" height="0.30" fill="#3c3c3c" stroke="#000" stroke-width="0.7"/>
<rect x="445.93" y="207.00" width="4.85" height="0.40" fill="#c8c8c8" stroke="#000" stroke-width="0.7"/>
<line x1="453.20" y1="191.96" x2="453.20" y2="191.56" stroke="#000" stroke-width="0.7"/>
<line x1="451.70" y1="191.56" x2="454.70" y2="191.56" stroke="#000" stroke-width="0.7"/>
<path d="M450.78,207.40 V192.86 Q450.78,191.96 451.68,191.96 H454.73 Q455.63,191.96 455.63,192.86 V207.40Z" fill="#fff" stroke="#000" stroke-width="0.7"/>
<line x1="458.05" y1="204.41" x2="458.05" y2="204.11" stroke="#000" stroke-width="0.7"/>
<line x1="456.55" y1="204.11" x2="459.55" y2="204.11" stroke="#000" stroke-width="0.7"/>
<path d="M455.62,207.40 V205.31 Q455.62,204.41 456.52,204.41 H459.58 Q460.48,204.41 460.48,205.31 V207.40Z" fill="#3c3c3c" stroke="#000" stroke-width="0.7"/>
<line x1="467.05" y1="206.40" x2="467.05" y2="206.01" stroke="#000" stroke-width="0.7"/>
<line x1="465.55" y1="206.01" x2="468.55" y2="206.01" stroke="#000" stroke-width="0.7"/>
<rect x="464.62" y="206.40" width="4.85" height="1.00" fill="#c8c8c8" stroke="#000" stroke-width="0.7"/>
<line x1="471.90" y1="183.50" x2="471.90" y2="176.52" stroke="#000" stroke-width="0.7"/>
<line x1="470.40" y1="176.52" x2="473.40" y2="176.52" stroke="#000" stroke-width="0.7"/>
<path d="M469.48,207.40 V184.40 Q469.48,183.50 470.38,183.50 H473.43 Q474.33,183.50 474.33,184.40 V207.40Z" fill="#fff" stroke="#000" stroke-width="0.7"/>
<line x1="476.75" y1="197.69" x2="476.75" y2="195.20" stroke="#000" stroke-width="0.7"/>
<line x1="475.25" y1="195.20" x2="478.25" y2="195.20" stroke="#000" stroke-width="0.7"/>
<path d="M474.32,207.40 V198.59 Q474.32,197.69 475.22,197.69 H478.28 Q479.18,197.69 479.18,198.59 V207.40Z" fill="#3c3c3c" stroke="#000" stroke-width="0.7"/>
<line x1="485.65" y1="205.66" x2="485.65" y2="205.41" stroke="#000" stroke-width="0.7"/>
<line x1="484.15" y1="205.41" x2="487.15" y2="205.41" stroke="#000" stroke-width="0.7"/>
<rect x="483.23" y="205.66" width="4.85" height="1.74" fill="#c8c8c8" stroke="#000" stroke-width="0.7"/>
<line x1="490.50" y1="180.51" x2="490.50" y2="174.28" stroke="#000" stroke-width="0.7"/>
<line x1="489.00" y1="174.28" x2="492.00" y2="174.28" stroke="#000" stroke-width="0.7"/>
<path d="M488.08,207.40 V181.41 Q488.08,180.51 488.98,180.51 H492.03 Q492.93,180.51 492.93,181.41 V207.40Z" fill="#fff" stroke="#000" stroke-width="0.7"/>
<line x1="495.35" y1="190.97" x2="495.35" y2="186.73" stroke="#000" stroke-width="0.7"/>
<line x1="493.85" y1="186.73" x2="496.85" y2="186.73" stroke="#000" stroke-width="0.7"/>
<path d="M492.93,207.40 V191.87 Q492.93,190.97 493.82,190.97 H496.88 Q497.78,190.97 497.78,191.87 V207.40Z" fill="#3c3c3c" stroke="#000" stroke-width="0.7"/>
<line x1="424.90" y1="157.20" x2="424.90" y2="207.80" stroke="#000" stroke-width="0.9"/>
<line x1="424.50" y1="207.40" x2="500.30" y2="207.40" stroke="#000" stroke-width="0.9"/>
<line x1="422.70" y1="207.40" x2="424.90" y2="207.40" stroke="#000" stroke-width="0.7"/>
<text x="422.0" y="208.85" font-size="4.0" font-weight="bold" text-anchor="end" font-family='"Liberation Sans", sans-serif' stroke="#000" stroke-width="0.340">0</text>
<line x1="422.70" y1="197.44" x2="424.90" y2="197.44" stroke="#000" stroke-width="0.7"/>
<text x="422.0" y="198.89" font-size="4.0" font-weight="bold" text-anchor="end" font-family='"Liberation Sans", sans-serif' stroke="#000" stroke-width="0.340">20</text>
<line x1="422.70" y1="187.48" x2="424.90" y2="187.48" stroke="#000" stroke-width="0.7"/>
<text x="422.0" y="188.92999999999998" font-size="4.0" font-weight="bold" text-anchor="end" font-family='"Liberation Sans", sans-serif' stroke="#000" stroke-width="0.340">40</text>
<line x1="422.70" y1="177.52" x2="424.90" y2="177.52" stroke="#000" stroke-width="0.7"/>
<text x="422.0" y="178.97" font-size="4.0" font-weight="bold" text-anchor="end" font-family='"Liberation Sans", sans-serif' stroke="#000" stroke-width="0.340">60</text>
<line x1="422.70" y1="167.56" x2="424.90" y2="167.56" stroke="#000" stroke-width="0.7"/>
<text x="422.0" y="169.01" font-size="4.0" font-weight="bold" text-anchor="end" font-family='"Liberation Sans", sans-serif' stroke="#000" stroke-width="0.340">80</text>
<line x1="422.70" y1="157.60" x2="424.90" y2="157.60" stroke="#000" stroke-width="0.7"/>
<text x="422.0" y="159.04999999999998" font-size="4.0" font-weight="bold" text-anchor="end" font-family='"Liberation Sans", sans-serif' stroke="#000" stroke-width="0.340">100</text>
<text x="434.40000000000003" y="213.1" font-size="4.1" font-weight="bold" text-anchor="middle" font-family='"Liberation Sans", sans-serif' stroke="#000" stroke-width="0.340">2</text>
<text x="453.0" y="213.1" font-size="4.1" font-weight="bold" text-anchor="middle" font-family='"Liberation Sans", sans-serif' stroke="#000" stroke-width="0.340">12</text>
<text x="471.7" y="213.1" font-size="4.1" font-weight="bold" text-anchor="middle" font-family='"Liberation Sans", sans-serif' stroke="#000" stroke-width="0.340">24</text>
<text x="490.3" y="213.1" font-size="4.1" font-weight="bold" text-anchor="middle" font-family='"Liberation Sans", sans-serif' stroke="#000" stroke-width="0.340">48</text>
<text x="464.2" y="218.3" font-size="4.5" font-weight="bold" text-anchor="middle" font-family='"Liberation Sans", sans-serif' stroke="#000" stroke-width="0.280" textLength="53.0" lengthAdjust="spacingAndGlyphs">time (hours after injection)</text>
<text x="413.6" y="181.0" font-size="4.3" font-weight="bold" text-anchor="middle" font-family='"Liberation Sans", sans-serif' transform="rotate(-90 413.6 181.0)" stroke="#000" stroke-width="0.220">% <tspan font-size="3.01" dy="-1.55">3</tspan><tspan dy="1.55" font-size="4.3">&#8203;</tspan>H-PL injected</text>
<text x="410.6" y="146.8" font-size="10" font-weight="bold" text-anchor="start" font-family='"Liberation Sans", sans-serif' stroke="#000" stroke-width="0.350">G</text>
<text x="461.5" y="136.2" font-size="7.5" font-weight="bold" text-anchor="middle" font-family='"Liberation Serif", serif' stroke="#000" stroke-width="0.300">Spleen</text>
<rect x="30.70" y="289.94" width="5.00" height="0.26" fill="#c8c8c8" stroke="#000" stroke-width="0.7"/>
<rect x="35.70" y="290.07" width="5.00" height="0.13" fill="#fff" stroke="#000" stroke-width="0.7"/>
<rect x="40.70" y="289.94" width="5.00" height="0.26" fill="#3c3c3c" stroke="#000" stroke-width="0.7"/>
<rect x="50.10" y="289.17" width="5.00" height="1.03" fill="#c8c8c8" stroke="#000" stroke-width="0.7"/>
<rect x="55.10" y="289.82" width="5.00" height="0.38" fill="#fff" stroke="#000" stroke-width="0.7"/>
<line x1="62.60" y1="285.45" x2="62.60" y2="285.07" stroke="#000" stroke-width="0.7"/>
<line x1="61.10" y1="285.07" x2="64.10" y2="285.07" stroke="#000" stroke-width="0.7"/>
<path d="M60.10,290.20 V286.35 Q60.10,285.45 61.00,285.45 H64.20 Q65.10,285.45 65.10,286.35 V290.20Z" fill="#3c3c3c" stroke="#000" stroke-width="0.7"/>
<line x1="72.00" y1="285.07" x2="72.00" y2="284.69" stroke="#000" stroke-width="0.7"/>
<line x1="70.50" y1="284.69" x2="73.50" y2="284.69" stroke="#000" stroke-width="0.7"/>
<path d="M69.50,290.20 V285.97 Q69.50,285.07 70.40,285.07 H73.60 Q74.50,285.07 74.50,285.97 V290.20Z" fill="#c8c8c8" stroke="#000" stroke-width="0.7"/>
<path d="M74.50,290.20 V288.79 Q74.50,287.89 75.40,287.89 H78.60 Q79.50,287.89 79.50,288.79 V290.20Z" fill="#fff" stroke="#000" stroke-width="0.7"/>
<line x1="82.00" y1="276.09" x2="82.00" y2="275.45" stroke="#000" stroke-width="0.7"/>
<line x1="80.50" y1="275.45" x2="83.50" y2="275.45" stroke="#000" stroke-width="0.7"/>
<path d="M79.50,290.20 V276.99 Q79.50,276.09 80.40,276.09 H83.60 Q84.50,276.09 84.50,276.99 V290.20Z" fill="#3c3c3c" stroke="#000" stroke-width="0.7"/>
<line x1="91.30" y1="284.56" x2="91.30" y2="284.04" stroke="#000" stroke-width="0.7"/>
<line x1="89.80" y1="284.04" x2="92.80" y2="284.04" stroke="#000" stroke-width="0.7"/>
<path d="M88.80,290.20 V285.46 Q88.80,284.56 89.70,284.56 H92.90 Q93.80,284.56 93.80,285.46 V290.20Z" fill="#c8c8c8" stroke="#000" stroke-width="0.7"/>
<rect x="93.80" y="288.28" width="5.00" height="1.92" fill="#fff" stroke="#000" stroke-width="0.7"/>
<line x1="101.30" y1="269.94" x2="101.30" y2="269.42" stroke="#000" stroke-width="0.7"/>
<line x1="99.80" y1="269.42" x2="102.80" y2="269.42" stroke="#000" stroke-width="0.7"/>
<path d="M98.80,290.20 V270.84 Q98.80,269.94 99.70,269.94 H102.90 Q103.80,269.94 103.80,270.84 V290.20Z" fill="#3c3c3c" stroke="#000" stroke-width="0.7"/>
<line x1="28.20" y1="238.50" x2="28.20" y2="290.60" stroke="#000" stroke-width="0.9"/>
<line x1="27.80" y1="290.20" x2="107.20" y2="290.20" stroke="#000" stroke-width="0.9"/>
<line x1="26.00" y1="290.20" x2="28.20" y2="290.20" stroke="#000" stroke-width="0.7"/>
<text x="25.3" y="291.65" font-size="4.0" font-weight="bold" text-anchor="end" font-family='"Liberation Sans", sans-serif' stroke="#000" stroke-width="0.340">0</text>
<line x1="26.00" y1="277.38" x2="28.20" y2="277.38" stroke="#000" stroke-width="0.7"/>
<text x="25.3" y="278.825" font-size="4.0" font-weight="bold" text-anchor="end" font-family='"Liberation Sans", sans-serif' stroke="#000" stroke-width="0.340">5</text>
<line x1="26.00" y1="264.55" x2="28.20" y2="264.55" stroke="#000" stroke-width="0.7"/>
<text x="25.3" y="266.0" font-size="4.0" font-weight="bold" text-anchor="end" font-family='"Liberation Sans", sans-serif' stroke="#000" stroke-width="0.340">10</text>
<line x1="26.00" y1="251.72" x2="28.20" y2="251.72" stroke="#000" stroke-width="0.7"/>
<text x="25.3" y="253.17499999999998" font-size="4.0" font-weight="bold" text-anchor="end" font-family='"Liberation Sans", sans-serif' stroke="#000" stroke-width="0.340">15</text>
<line x1="26.00" y1="238.90" x2="28.20" y2="238.90" stroke="#000" stroke-width="0.7"/>
<text x="25.3" y="240.35" font-size="4.0" font-weight="bold" text-anchor="end" font-family='"Liberation Sans", sans-serif' stroke="#000" stroke-width="0.340">20</text>
<text x="38.0" y="295.9" font-size="4.1" font-weight="bold" text-anchor="middle" font-family='"Liberation Sans", sans-serif' stroke="#000" stroke-width="0.340">2</text>
<text x="57.4" y="295.9" font-size="4.1" font-weight="bold" text-anchor="middle" font-family='"Liberation Sans", sans-serif' stroke="#000" stroke-width="0.340">12</text>
<text x="76.8" y="295.9" font-size="4.1" font-weight="bold" text-anchor="middle" font-family='"Liberation Sans", sans-serif' stroke="#000" stroke-width="0.340">24</text>
<text x="96.1" y="295.9" font-size="4.1" font-weight="bold" text-anchor="middle" font-family='"Liberation Sans", sans-serif' stroke="#000" stroke-width="0.340">48</text>
<text x="69.1" y="301.09999999999997" font-size="4.5" font-weight="bold" text-anchor="middle" font-family='"Liberation Sans", sans-serif' stroke="#000" stroke-width="0.280" textLength="53.4" lengthAdjust="spacingAndGlyphs">time (hours after injection)</text>
<text x="19.0" y="263.05" font-size="4.3" font-weight="bold" text-anchor="middle" font-family='"Liberation Sans", sans-serif' transform="rotate(-90 19.0 263.05)" stroke="#000" stroke-width="0.220">% <tspan font-size="3.01" dy="-1.55">14</tspan><tspan dy="1.55" font-size="4.3">&#8203;</tspan>C-DXR injected</text>
<text x="14.2" y="236.2" font-size="10" font-weight="bold" text-anchor="start" font-family='"Liberation Sans", sans-serif' stroke="#000" stroke-width="0.350">H</text>
<rect x="132.90" y="289.94" width="5.00" height="0.26" fill="#c8c8c8" stroke="#000" stroke-width="0.7"/>
<rect x="137.90" y="289.94" width="5.00" height="0.26" fill="#fff" stroke="#000" stroke-width="0.7"/>
<rect x="142.90" y="289.94" width="5.00" height="0.26" fill="#3c3c3c" stroke="#000" stroke-width="0.7"/>
<rect x="152.10" y="289.69" width="5.00" height="0.51" fill="#c8c8c8" stroke="#000" stroke-width="0.7"/>
<rect x="157.10" y="289.43" width="5.00" height="0.77" fill="#fff" stroke="#000" stroke-width="0.7"/>
<rect x="162.10" y="289.56" width="5.00" height="0.64" fill="#3c3c3c" stroke="#000" stroke-width="0.7"/>
<rect x="171.30" y="288.28" width="5.00" height="1.92" fill="#c8c8c8" stroke="#000" stroke-width="0.7"/>
<line x1="178.80" y1="286.36" x2="178.80" y2="286.10" stroke="#000" stroke-width="0.7"/>
<line x1="177.30" y1="286.10" x2="180.30" y2="286.10" stroke="#000" stroke-width="0.7"/>
<path d="M176.30,290.20 V287.26 Q176.30,286.36 177.20,286.36 H180.40 Q181.30,286.36 181.30,287.26 V290.20Z" fill="#fff" stroke="#000" stroke-width="0.7"/>
<path d="M181.30,290.20 V288.28 Q181.30,287.38 182.20,287.38 H185.40 Q186.30,287.38 186.30,288.28 V290.20Z" fill="#3c3c3c" stroke="#000" stroke-width="0.7"/>
<path d="M190.50,290.20 V288.28 Q190.50,287.38 191.40,287.38 H194.60 Q195.50,287.38 195.50,288.28 V290.20Z" fill="#c8c8c8" stroke="#000" stroke-width="0.7"/>
<line x1="198.00" y1="283.54" x2="198.00" y2="283.16" stroke="#000" stroke-width="0.7"/>
<line x1="196.50" y1="283.16" x2="199.50" y2="283.16" stroke="#000" stroke-width="0.7"/>
<path d="M195.50,290.20 V284.44 Q195.50,283.54 196.40,283.54 H199.60 Q200.50,283.54 200.50,284.44 V290.20Z" fill="#fff" stroke="#000" stroke-width="0.7"/>
<path d="M200.50,290.20 V287.26 Q200.50,286.36 201.40,286.36 H204.60 Q205.50,286.36 205.50,287.26 V290.20Z" fill="#3c3c3c" stroke="#000" stroke-width="0.7"/>
<line x1="130.60" y1="238.60" x2="130.60" y2="290.60" stroke="#000" stroke-width="0.9"/>
<line x1="130.20" y1="290.20" x2="208.60" y2="290.20" stroke="#000" stroke-width="0.9"/>
<line x1="128.40" y1="290.20" x2="130.60" y2="290.20" stroke="#000" stroke-width="0.7"/>
<text x="127.69999999999999" y="291.65" font-size="4.0" font-weight="bold" text-anchor="end" font-family='"Liberation Sans", sans-serif' stroke="#000" stroke-width="0.340">0</text>
<line x1="128.40" y1="277.40" x2="130.60" y2="277.40" stroke="#000" stroke-width="0.7"/>
<text x="127.69999999999999" y="278.84999999999997" font-size="4.0" font-weight="bold" text-anchor="end" font-family='"Liberation Sans", sans-serif' stroke="#000" stroke-width="0.340">5</text>
<line x1="128.40" y1="264.60" x2="130.60" y2="264.60" stroke="#000" stroke-width="0.7"/>
<text x="127.69999999999999" y="266.05" font-size="4.0" font-weight="bold" text-anchor="end" font-family='"Liberation Sans", sans-serif' stroke="#000" stroke-width="0.340">10</text>
<line x1="128.40" y1="251.80" x2="130.60" y2="251.80" stroke="#000" stroke-width="0.7"/>
<text x="127.69999999999999" y="253.25" font-size="4.0" font-weight="bold" text-anchor="end" font-family='"Liberation Sans", sans-serif' stroke="#000" stroke-width="0.340">15</text>
<line x1="128.40" y1="239.00" x2="130.60" y2="239.00" stroke="#000" stroke-width="0.7"/>
<text x="127.69999999999999" y="240.45" font-size="4.0" font-weight="bold" text-anchor="end" font-family='"Liberation Sans", sans-serif' stroke="#000" stroke-width="0.340">20</text>
<text x="140.20000000000002" y="295.9" font-size="4.1" font-weight="bold" text-anchor="middle" font-family='"Liberation Sans", sans-serif' stroke="#000" stroke-width="0.340">2</text>
<text x="159.4" y="295.9" font-size="4.1" font-weight="bold" text-anchor="middle" font-family='"Liberation Sans", sans-serif' stroke="#000" stroke-width="0.340">12</text>
<text x="178.60000000000002" y="295.9" font-size="4.1" font-weight="bold" text-anchor="middle" font-family='"Liberation Sans", sans-serif' stroke="#000" stroke-width="0.340">24</text>
<text x="197.8" y="295.9" font-size="4.1" font-weight="bold" text-anchor="middle" font-family='"Liberation Sans", sans-serif' stroke="#000" stroke-width="0.340">48</text>
<text x="170.9" y="301.09999999999997" font-size="4.5" font-weight="bold" text-anchor="middle" font-family='"Liberation Sans", sans-serif' stroke="#000" stroke-width="0.280" textLength="53.4" lengthAdjust="spacingAndGlyphs">time (hours after injection)</text>
<text x="121.4" y="263.1" font-size="4.3" font-weight="bold" text-anchor="middle" font-family='"Liberation Sans", sans-serif' transform="rotate(-90 121.4 263.1)" stroke="#000" stroke-width="0.220">% <tspan font-size="3.01" dy="-1.55">14</tspan><tspan dy="1.55" font-size="4.3">&#8203;</tspan>C-DXR injected</text>
<text x="116.6" y="235.8" font-size="10" font-weight="bold" text-anchor="start" font-family='"Liberation Sans", sans-serif' stroke="#000" stroke-width="0.350">I</text>
<rect x="231.83" y="290.00" width="5.05" height="0.20" fill="#c8c8c8" stroke="#000" stroke-width="0.7"/>
<rect x="236.88" y="290.00" width="5.05" height="0.20" fill="#fff" stroke="#000" stroke-width="0.7"/>
<rect x="241.93" y="290.00" width="5.05" height="0.20" fill="#3c3c3c" stroke="#000" stroke-width="0.7"/>
<rect x="251.03" y="289.90" width="5.05" height="0.30" fill="#c8c8c8" stroke="#000" stroke-width="0.7"/>
<rect x="256.08" y="289.59" width="5.05" height="0.61" fill="#fff" stroke="#000" stroke-width="0.7"/>
<rect x="261.13" y="289.80" width="5.05" height="0.40" fill="#3c3c3c" stroke="#000" stroke-width="0.7"/>
<rect x="270.32" y="289.44" width="5.05" height="0.76" fill="#c8c8c8" stroke="#000" stroke-width="0.7"/>
<rect x="275.38" y="288.94" width="5.05" height="1.26" fill="#fff" stroke="#000" stroke-width="0.7"/>
<rect x="280.43" y="289.44" width="5.05" height="0.76" fill="#3c3c3c" stroke="#000" stroke-width="0.7"/>
<rect x="289.62" y="288.94" width="5.05" height="1.26" fill="#c8c8c8" stroke="#000" stroke-width="0.7"/>
<rect x="294.68" y="288.18" width="5.05" height="2.02" fill="#fff" stroke="#000" stroke-width="0.7"/>
<rect x="299.73" y="288.94" width="5.05" height="1.26" fill="#3c3c3c" stroke="#000" stroke-width="0.7"/>
<line x1="229.50" y1="239.20" x2="229.50" y2="290.60" stroke="#000" stroke-width="0.9"/>
<line x1="229.10" y1="290.20" x2="307.40" y2="290.20" stroke="#000" stroke-width="0.9"/>
<line x1="227.30" y1="290.20" x2="229.50" y2="290.20" stroke="#000" stroke-width="0.7"/>
<text x="226.6" y="291.65" font-size="4.0" font-weight="bold" text-anchor="end" font-family='"Liberation Sans", sans-serif' stroke="#000" stroke-width="0.340">0</text>
<line x1="227.30" y1="280.08" x2="229.50" y2="280.08" stroke="#000" stroke-width="0.7"/>
<text x="226.6" y="281.53" font-size="4.0" font-weight="bold" text-anchor="end" font-family='"Liberation Sans", sans-serif' stroke="#000" stroke-width="0.340">20</text>
<line x1="227.30" y1="269.96" x2="229.50" y2="269.96" stroke="#000" stroke-width="0.7"/>
<text x="226.6" y="271.40999999999997" font-size="4.0" font-weight="bold" text-anchor="end" font-family='"Liberation Sans", sans-serif' stroke="#000" stroke-width="0.340">40</text>
<line x1="227.30" y1="259.84" x2="229.50" y2="259.84" stroke="#000" stroke-width="0.7"/>
<text x="226.6" y="261.28999999999996" font-size="4.0" font-weight="bold" text-anchor="end" font-family='"Liberation Sans", sans-serif' stroke="#000" stroke-width="0.340">60</text>
<line x1="227.30" y1="249.72" x2="229.50" y2="249.72" stroke="#000" stroke-width="0.7"/>
<text x="226.6" y="251.17" font-size="4.0" font-weight="bold" text-anchor="end" font-family='"Liberation Sans", sans-serif' stroke="#000" stroke-width="0.340">80</text>
<line x1="227.30" y1="239.60" x2="229.50" y2="239.60" stroke="#000" stroke-width="0.7"/>
<text x="226.6" y="241.04999999999998" font-size="4.0" font-weight="bold" text-anchor="end" font-family='"Liberation Sans", sans-serif' stroke="#000" stroke-width="0.340">100</text>
<text x="239.20000000000002" y="295.9" font-size="4.1" font-weight="bold" text-anchor="middle" font-family='"Liberation Sans", sans-serif' stroke="#000" stroke-width="0.340">2</text>
<text x="258.40000000000003" y="295.9" font-size="4.1" font-weight="bold" text-anchor="middle" font-family='"Liberation Sans", sans-serif' stroke="#000" stroke-width="0.340">12</text>
<text x="277.7" y="295.9" font-size="4.1" font-weight="bold" text-anchor="middle" font-family='"Liberation Sans", sans-serif' stroke="#000" stroke-width="0.340">24</text>
<text x="297.0" y="295.9" font-size="4.1" font-weight="bold" text-anchor="middle" font-family='"Liberation Sans", sans-serif' stroke="#000" stroke-width="0.340">48</text>
<text x="269.5" y="301.09999999999997" font-size="4.5" font-weight="bold" text-anchor="middle" font-family='"Liberation Sans", sans-serif' stroke="#000" stroke-width="0.280" textLength="53.0" lengthAdjust="spacingAndGlyphs">time (hours after injection)</text>
<text x="218.5" y="263.4" font-size="4.3" font-weight="bold" text-anchor="middle" font-family='"Liberation Sans", sans-serif' transform="rotate(-90 218.5 263.4)" stroke="#000" stroke-width="0.220">% <tspan font-size="3.01" dy="-1.55">14</tspan><tspan dy="1.55" font-size="4.3">&#8203;</tspan>C-DXR injected</text>
<text x="213.6" y="236.0" font-size="10" font-weight="bold" text-anchor="start" font-family='"Liberation Sans", sans-serif' stroke="#000" stroke-width="0.350">J</text>
<rect x="328.32" y="289.69" width="5.05" height="0.51" fill="#c8c8c8" stroke="#000" stroke-width="0.7"/>
<line x1="335.90" y1="287.65" x2="335.90" y2="287.45" stroke="#000" stroke-width="0.7"/>
<line x1="334.40" y1="287.45" x2="337.40" y2="287.45" stroke="#000" stroke-width="0.7"/>
<path d="M333.38,290.20 V288.55 Q333.38,287.65 334.27,287.65 H337.53 Q338.43,287.65 338.43,288.55 V290.20Z" fill="#fff" stroke="#000" stroke-width="0.7"/>
<rect x="338.43" y="289.94" width="5.05" height="0.26" fill="#3c3c3c" stroke="#000" stroke-width="0.7"/>
<line x1="350.05" y1="287.65" x2="350.05" y2="287.39" stroke="#000" stroke-width="0.7"/>
<line x1="348.55" y1="287.39" x2="351.55" y2="287.39" stroke="#000" stroke-width="0.7"/>
<path d="M347.53,290.20 V288.55 Q347.53,287.65 348.43,287.65 H351.68 Q352.58,287.65 352.58,288.55 V290.20Z" fill="#c8c8c8" stroke="#000" stroke-width="0.7"/>
<line x1="355.10" y1="283.57" x2="355.10" y2="282.65" stroke="#000" stroke-width="0.7"/>
<line x1="353.60" y1="282.65" x2="356.60" y2="282.65" stroke="#000" stroke-width="0.7"/>
<path d="M352.58,290.20 V284.47 Q352.58,283.57 353.48,283.57 H356.73 Q357.63,283.57 357.63,284.47 V290.20Z" fill="#fff" stroke="#000" stroke-width="0.7"/>
<rect x="357.63" y="289.79" width="5.05" height="0.41" fill="#3c3c3c" stroke="#000" stroke-width="0.7"/>
<line x1="369.25" y1="283.82" x2="369.25" y2="283.06" stroke="#000" stroke-width="0.7"/>
<line x1="367.75" y1="283.06" x2="370.75" y2="283.06" stroke="#000" stroke-width="0.7"/>
<path d="M366.73,290.20 V284.72 Q366.73,283.82 367.62,283.82 H370.88 Q371.78,283.82 371.78,284.72 V290.20Z" fill="#c8c8c8" stroke="#000" stroke-width="0.7"/>
<line x1="374.30" y1="276.43" x2="374.30" y2="273.88" stroke="#000" stroke-width="0.7"/>
<line x1="372.80" y1="273.88" x2="375.80" y2="273.88" stroke="#000" stroke-width="0.7"/>
<path d="M371.78,290.20 V277.33 Q371.78,276.43 372.68,276.43 H375.93 Q376.83,276.43 376.83,277.33 V290.20Z" fill="#fff" stroke="#000" stroke-width="0.7"/>
<line x1="379.35" y1="286.88" x2="379.35" y2="286.48" stroke="#000" stroke-width="0.7"/>
<line x1="377.85" y1="286.48" x2="380.85" y2="286.48" stroke="#000" stroke-width="0.7"/>
<path d="M376.83,290.20 V287.78 Q376.83,286.88 377.73,286.88 H380.98 Q381.88,286.88 381.88,287.78 V290.20Z" fill="#3c3c3c" stroke="#000" stroke-width="0.7"/>
<line x1="388.55" y1="286.88" x2="388.55" y2="286.48" stroke="#000" stroke-width="0.7"/>
<line x1="387.05" y1="286.48" x2="390.05" y2="286.48" stroke="#000" stroke-width="0.7"/>
<path d="M386.03,290.20 V287.78 Q386.03,286.88 386.93,286.88 H390.18 Q391.08,286.88 391.08,287.78 V290.20Z" fill="#c8c8c8" stroke="#000" stroke-width="0.7"/>
<line x1="393.60" y1="283.06" x2="393.60" y2="282.30" stroke="#000" stroke-width="0.7"/>
<line x1="392.10" y1="282.30" x2="395.10" y2="282.30" stroke="#000" stroke-width="0.7"/>
<path d="M391.08,290.20 V283.96 Q391.08,283.06 391.98,283.06 H395.23 Q396.13,283.06 396.13,283.96 V290.20Z" fill="#fff" stroke="#000" stroke-width="0.7"/>
<line x1="398.65" y1="285.61" x2="398.65" y2="285.10" stroke="#000" stroke-width="0.7"/>
<line x1="397.15" y1="285.10" x2="400.15" y2="285.10" stroke="#000" stroke-width="0.7"/>
<path d="M396.13,290.20 V286.51 Q396.13,285.61 397.03,285.61 H400.28 Q401.18,285.61 401.18,286.51 V290.20Z" fill="#3c3c3c" stroke="#000" stroke-width="0.7"/>
<line x1="325.70" y1="238.80" x2="325.70" y2="290.60" stroke="#000" stroke-width="0.9"/>
<line x1="325.30" y1="290.20" x2="403.90" y2="290.20" stroke="#000" stroke-width="0.9"/>
<line x1="323.50" y1="290.20" x2="325.70" y2="290.20" stroke="#000" stroke-width="0.7"/>
<text x="322.8" y="291.65" font-size="4.0" font-weight="bold" text-anchor="end" font-family='"Liberation Sans", sans-serif' stroke="#000" stroke-width="0.340">0</text>
<line x1="323.50" y1="280.00" x2="325.70" y2="280.00" stroke="#000" stroke-width="0.7"/>
<text x="322.8" y="281.45" font-size="4.0" font-weight="bold" text-anchor="end" font-family='"Liberation Sans", sans-serif' stroke="#000" stroke-width="0.340">20</text>
<line x1="323.50" y1="269.80" x2="325.70" y2="269.80" stroke="#000" stroke-width="0.7"/>
<text x="322.8" y="271.25" font-size="4.0" font-weight="bold" text-anchor="end" font-family='"Liberation Sans", sans-serif' stroke="#000" stroke-width="0.340">40</text>
<line x1="323.50" y1="259.60" x2="325.70" y2="259.60" stroke="#000" stroke-width="0.7"/>
<text x="322.8" y="261.04999999999995" font-size="4.0" font-weight="bold" text-anchor="end" font-family='"Liberation Sans", sans-serif' stroke="#000" stroke-width="0.340">60</text>
<line x1="323.50" y1="249.40" x2="325.70" y2="249.40" stroke="#000" stroke-width="0.7"/>
<text x="322.8" y="250.84999999999997" font-size="4.0" font-weight="bold" text-anchor="end" font-family='"Liberation Sans", sans-serif' stroke="#000" stroke-width="0.340">80</text>
<line x1="323.50" y1="239.20" x2="325.70" y2="239.20" stroke="#000" stroke-width="0.7"/>
<text x="322.8" y="240.64999999999998" font-size="4.0" font-weight="bold" text-anchor="end" font-family='"Liberation Sans", sans-serif' stroke="#000" stroke-width="0.340">100</text>
<text x="335.7" y="295.9" font-size="4.1" font-weight="bold" text-anchor="middle" font-family='"Liberation Sans", sans-serif' stroke="#000" stroke-width="0.340">2</text>
<text x="354.90000000000003" y="295.9" font-size="4.1" font-weight="bold" text-anchor="middle" font-family='"Liberation Sans", sans-serif' stroke="#000" stroke-width="0.340">12</text>
<text x="374.1" y="295.9" font-size="4.1" font-weight="bold" text-anchor="middle" font-family='"Liberation Sans", sans-serif' stroke="#000" stroke-width="0.340">24</text>
<text x="393.40000000000003" y="295.9" font-size="4.1" font-weight="bold" text-anchor="middle" font-family='"Liberation Sans", sans-serif' stroke="#000" stroke-width="0.340">48</text>
<text x="366.4" y="301.09999999999997" font-size="4.5" font-weight="bold" text-anchor="middle" font-family='"Liberation Sans", sans-serif' stroke="#000" stroke-width="0.280" textLength="53.0" lengthAdjust="spacingAndGlyphs">time (hours after injection)</text>
<text x="315.0" y="263.2" font-size="4.3" font-weight="bold" text-anchor="middle" font-family='"Liberation Sans", sans-serif' transform="rotate(-90 315.0 263.2)" stroke="#000" stroke-width="0.220">% <tspan font-size="3.01" dy="-1.55">14</tspan><tspan dy="1.55" font-size="4.3">&#8203;</tspan>C-DXR injected</text>
<text x="309.6" y="236.0" font-size="10" font-weight="bold" text-anchor="start" font-family='"Liberation Sans", sans-serif' stroke="#000" stroke-width="0.350">K</text>
<rect x="429.55" y="289.94" width="5.10" height="0.26" fill="#c8c8c8" stroke="#000" stroke-width="0.7"/>
<line x1="437.20" y1="284.08" x2="437.20" y2="282.19" stroke="#000" stroke-width="0.7"/>
<line x1="435.70" y1="282.19" x2="438.70" y2="282.19" stroke="#000" stroke-width="0.7"/>
<path d="M434.65,290.20 V284.98 Q434.65,284.08 435.55,284.08 H438.85 Q439.75,284.08 439.75,284.98 V290.20Z" fill="#fff" stroke="#000" stroke-width="0.7"/>
<rect x="439.75" y="289.94" width="5.10" height="0.26" fill="#3c3c3c" stroke="#000" stroke-width="0.7"/>
<line x1="451.50" y1="289.44" x2="451.50" y2="289.18" stroke="#000" stroke-width="0.7"/>
<line x1="450.00" y1="289.18" x2="453.00" y2="289.18" stroke="#000" stroke-width="0.7"/>
<rect x="448.95" y="289.44" width="5.10" height="0.77" fill="#c8c8c8" stroke="#000" stroke-width="0.7"/>
<line x1="456.60" y1="274.90" x2="456.60" y2="274.59" stroke="#000" stroke-width="0.7"/>
<line x1="455.10" y1="274.59" x2="458.10" y2="274.59" stroke="#000" stroke-width="0.7"/>
<path d="M454.05,290.20 V275.80 Q454.05,274.90 454.95,274.90 H458.25 Q459.15,274.90 459.15,275.80 V290.20Z" fill="#fff" stroke="#000" stroke-width="0.7"/>
<line x1="461.70" y1="288.26" x2="461.70" y2="288.01" stroke="#000" stroke-width="0.7"/>
<line x1="460.20" y1="288.01" x2="463.20" y2="288.01" stroke="#000" stroke-width="0.7"/>
<rect x="459.15" y="288.26" width="5.10" height="1.94" fill="#3c3c3c" stroke="#000" stroke-width="0.7"/>
<line x1="470.90" y1="288.93" x2="470.90" y2="287.14" stroke="#000" stroke-width="0.7"/>
<line x1="469.40" y1="287.14" x2="472.40" y2="287.14" stroke="#000" stroke-width="0.7"/>
<rect x="468.35" y="288.93" width="5.10" height="1.27" fill="#c8c8c8" stroke="#000" stroke-width="0.7"/>
<line x1="476.00" y1="269.80" x2="476.00" y2="265.72" stroke="#000" stroke-width="0.7"/>
<line x1="474.50" y1="265.72" x2="477.50" y2="265.72" stroke="#000" stroke-width="0.7"/>
<path d="M473.45,290.20 V270.70 Q473.45,269.80 474.35,269.80 H477.65 Q478.55,269.80 478.55,270.70 V290.20Z" fill="#fff" stroke="#000" stroke-width="0.7"/>
<line x1="481.10" y1="282.55" x2="481.10" y2="278.98" stroke="#000" stroke-width="0.7"/>
<line x1="479.60" y1="278.98" x2="482.60" y2="278.98" stroke="#000" stroke-width="0.7"/>
<path d="M478.55,290.20 V283.45 Q478.55,282.55 479.45,282.55 H482.75 Q483.65,282.55 483.65,283.45 V290.20Z" fill="#3c3c3c" stroke="#000" stroke-width="0.7"/>
<line x1="490.40" y1="288.41" x2="490.40" y2="287.14" stroke="#000" stroke-width="0.7"/>
<line x1="488.90" y1="287.14" x2="491.90" y2="287.14" stroke="#000" stroke-width="0.7"/>
<rect x="487.85" y="288.41" width="5.10" height="1.79" fill="#c8c8c8" stroke="#000" stroke-width="0.7"/>
<line x1="495.50" y1="264.44" x2="495.50" y2="260.11" stroke="#000" stroke-width="0.7"/>
<line x1="494.00" y1="260.11" x2="497.00" y2="260.11" stroke="#000" stroke-width="0.7"/>
<path d="M492.95,290.20 V265.34 Q492.95,264.44 493.85,264.44 H497.15 Q498.05,264.44 498.05,265.34 V290.20Z" fill="#fff" stroke="#000" stroke-width="0.7"/>
<line x1="500.60" y1="281.02" x2="500.60" y2="277.96" stroke="#000" stroke-width="0.7"/>
<line x1="499.10" y1="277.96" x2="502.10" y2="277.96" stroke="#000" stroke-width="0.7"/>
<path d="M498.05,290.20 V281.92 Q498.05,281.02 498.95,281.02 H502.25 Q503.15,281.02 503.15,281.92 V290.20Z" fill="#3c3c3c" stroke="#000" stroke-width="0.7"/>
<line x1="427.20" y1="238.80" x2="427.20" y2="290.60" stroke="#000" stroke-width="0.9"/>
<line x1="426.80" y1="290.20" x2="506.00" y2="290.20" stroke="#000" stroke-width="0.9"/>
<line x1="425.00" y1="290.20" x2="427.20" y2="290.20" stroke="#000" stroke-width="0.7"/>
<text x="424.3" y="291.65" font-size="4.0" font-weight="bold" text-anchor="end" font-family='"Liberation Sans", sans-serif' stroke="#000" stroke-width="0.340">0</text>
<line x1="425.00" y1="280.00" x2="427.20" y2="280.00" stroke="#000" stroke-width="0.7"/>
<text x="424.3" y="281.45" font-size="4.0" font-weight="bold" text-anchor="end" font-family='"Liberation Sans", sans-serif' stroke="#000" stroke-width="0.340">20</text>
<line x1="425.00" y1="269.80" x2="427.20" y2="269.80" stroke="#000" stroke-width="0.7"/>
<text x="424.3" y="271.25" font-size="4.0" font-weight="bold" text-anchor="end" font-family='"Liberation Sans", sans-serif' stroke="#000" stroke-width="0.340">40</text>
<line x1="425.00" y1="259.60" x2="427.20" y2="259.60" stroke="#000" stroke-width="0.7"/>
<text x="424.3" y="261.04999999999995" font-size="4.0" font-weight="bold" text-anchor="end" font-family='"Liberation Sans", sans-serif' stroke="#000" stroke-width="0.340">60</text>
<line x1="425.00" y1="249.40" x2="427.20" y2="249.40" stroke="#000" stroke-width="0.7"/>
<text x="424.3" y="250.84999999999997" font-size="4.0" font-weight="bold" text-anchor="end" font-family='"Liberation Sans", sans-serif' stroke="#000" stroke-width="0.340">80</text>
<line x1="425.00" y1="239.20" x2="427.20" y2="239.20" stroke="#000" stroke-width="0.7"/>
<text x="424.3" y="240.64999999999998" font-size="4.0" font-weight="bold" text-anchor="end" font-family='"Liberation Sans", sans-serif' stroke="#000" stroke-width="0.340">100</text>
<text x="437.0" y="295.9" font-size="4.1" font-weight="bold" text-anchor="middle" font-family='"Liberation Sans", sans-serif' stroke="#000" stroke-width="0.340">2</text>
<text x="456.40000000000003" y="295.9" font-size="4.1" font-weight="bold" text-anchor="middle" font-family='"Liberation Sans", sans-serif' stroke="#000" stroke-width="0.340">12</text>
<text x="475.8" y="295.9" font-size="4.1" font-weight="bold" text-anchor="middle" font-family='"Liberation Sans", sans-serif' stroke="#000" stroke-width="0.340">24</text>
<text x="495.3" y="295.9" font-size="4.1" font-weight="bold" text-anchor="middle" font-family='"Liberation Sans", sans-serif' stroke="#000" stroke-width="0.340">48</text>
<text x="468.0" y="301.09999999999997" font-size="4.5" font-weight="bold" text-anchor="middle" font-family='"Liberation Sans", sans-serif' stroke="#000" stroke-width="0.280" textLength="53.6" lengthAdjust="spacingAndGlyphs">time (hours after injection)</text>
<text x="414.6" y="263.2" font-size="4.3" font-weight="bold" text-anchor="middle" font-family='"Liberation Sans", sans-serif' transform="rotate(-90 414.6 263.2)" stroke="#000" stroke-width="0.220">% <tspan font-size="3.01" dy="-1.55">14</tspan><tspan dy="1.55" font-size="4.3">&#8203;</tspan>C-DXR injected</text>
<text x="410.8" y="235.8" font-size="10" font-weight="bold" text-anchor="start" font-family='"Liberation Sans", sans-serif' stroke="#000" stroke-width="0.350">L</text>
<rect x="43.9" y="139.0" width="60.4" height="23.6" fill="#fff" stroke="#333" stroke-width="1"/>
<rect x="48.5" y="143.60" width="7" height="3.4" fill="#c8c8c8" stroke="#000" stroke-width="0.6"/>
<text x="56.4" y="146.9" font-size="4.5" font-weight="normal" text-anchor="start" font-family='"Liberation Sans", sans-serif' stroke="#000" stroke-width="0.180" textLength="31" lengthAdjust="spacingAndGlyphs"><tspan font-size="3.15" dy="-1.62">3</tspan><tspan dy="1.62" font-size="4.5">&#8203;</tspan>H-SL[<tspan font-size="3.15" dy="-1.62">14</tspan><tspan dy="1.62" font-size="4.5">&#8203;</tspan>C-DXR]</text>
<rect x="48.5" y="149.40" width="7" height="3.4" fill="#fff" stroke="#000" stroke-width="0.6"/>
<text x="56.4" y="152.7" font-size="4.5" font-weight="normal" text-anchor="start" font-family='"Liberation Sans", sans-serif' stroke="#000" stroke-width="0.180" textLength="42" lengthAdjust="spacingAndGlyphs">ARA-<tspan font-size="3.15" dy="-1.62">3</tspan><tspan dy="1.62" font-size="4.5">&#8203;</tspan>H-SL[<tspan font-size="3.15" dy="-1.62">14</tspan><tspan dy="1.62" font-size="4.5">&#8203;</tspan>C-DXR]</text>
<rect x="48.5" y="155.90" width="7" height="3.4" fill="#3c3c3c" stroke="#000" stroke-width="0.6"/>
<text x="56.4" y="159.2" font-size="4.5" font-weight="normal" text-anchor="start" font-family='"Liberation Sans", sans-serif' stroke="#000" stroke-width="0.180" textLength="43" lengthAdjust="spacingAndGlyphs">NGR-<tspan font-size="3.15" dy="-1.62">3</tspan><tspan dy="1.62" font-size="4.5">&#8203;</tspan>H-SL[<tspan font-size="3.15" dy="-1.62">14</tspan><tspan dy="1.62" font-size="4.5">&#8203;</tspan>C-DXR]</text>
</g>
<defs><filter id="bl" x="0" y="0" width="520" height="315" filterUnits="userSpaceOnUse"><feGaussianBlur stdDeviation="0.35"/></filter></defs>
<rect x="0.5" y="0.5" width="519" height="314" fill="none" stroke="#000" stroke-width="1"/>
</svg>
</body></html>
